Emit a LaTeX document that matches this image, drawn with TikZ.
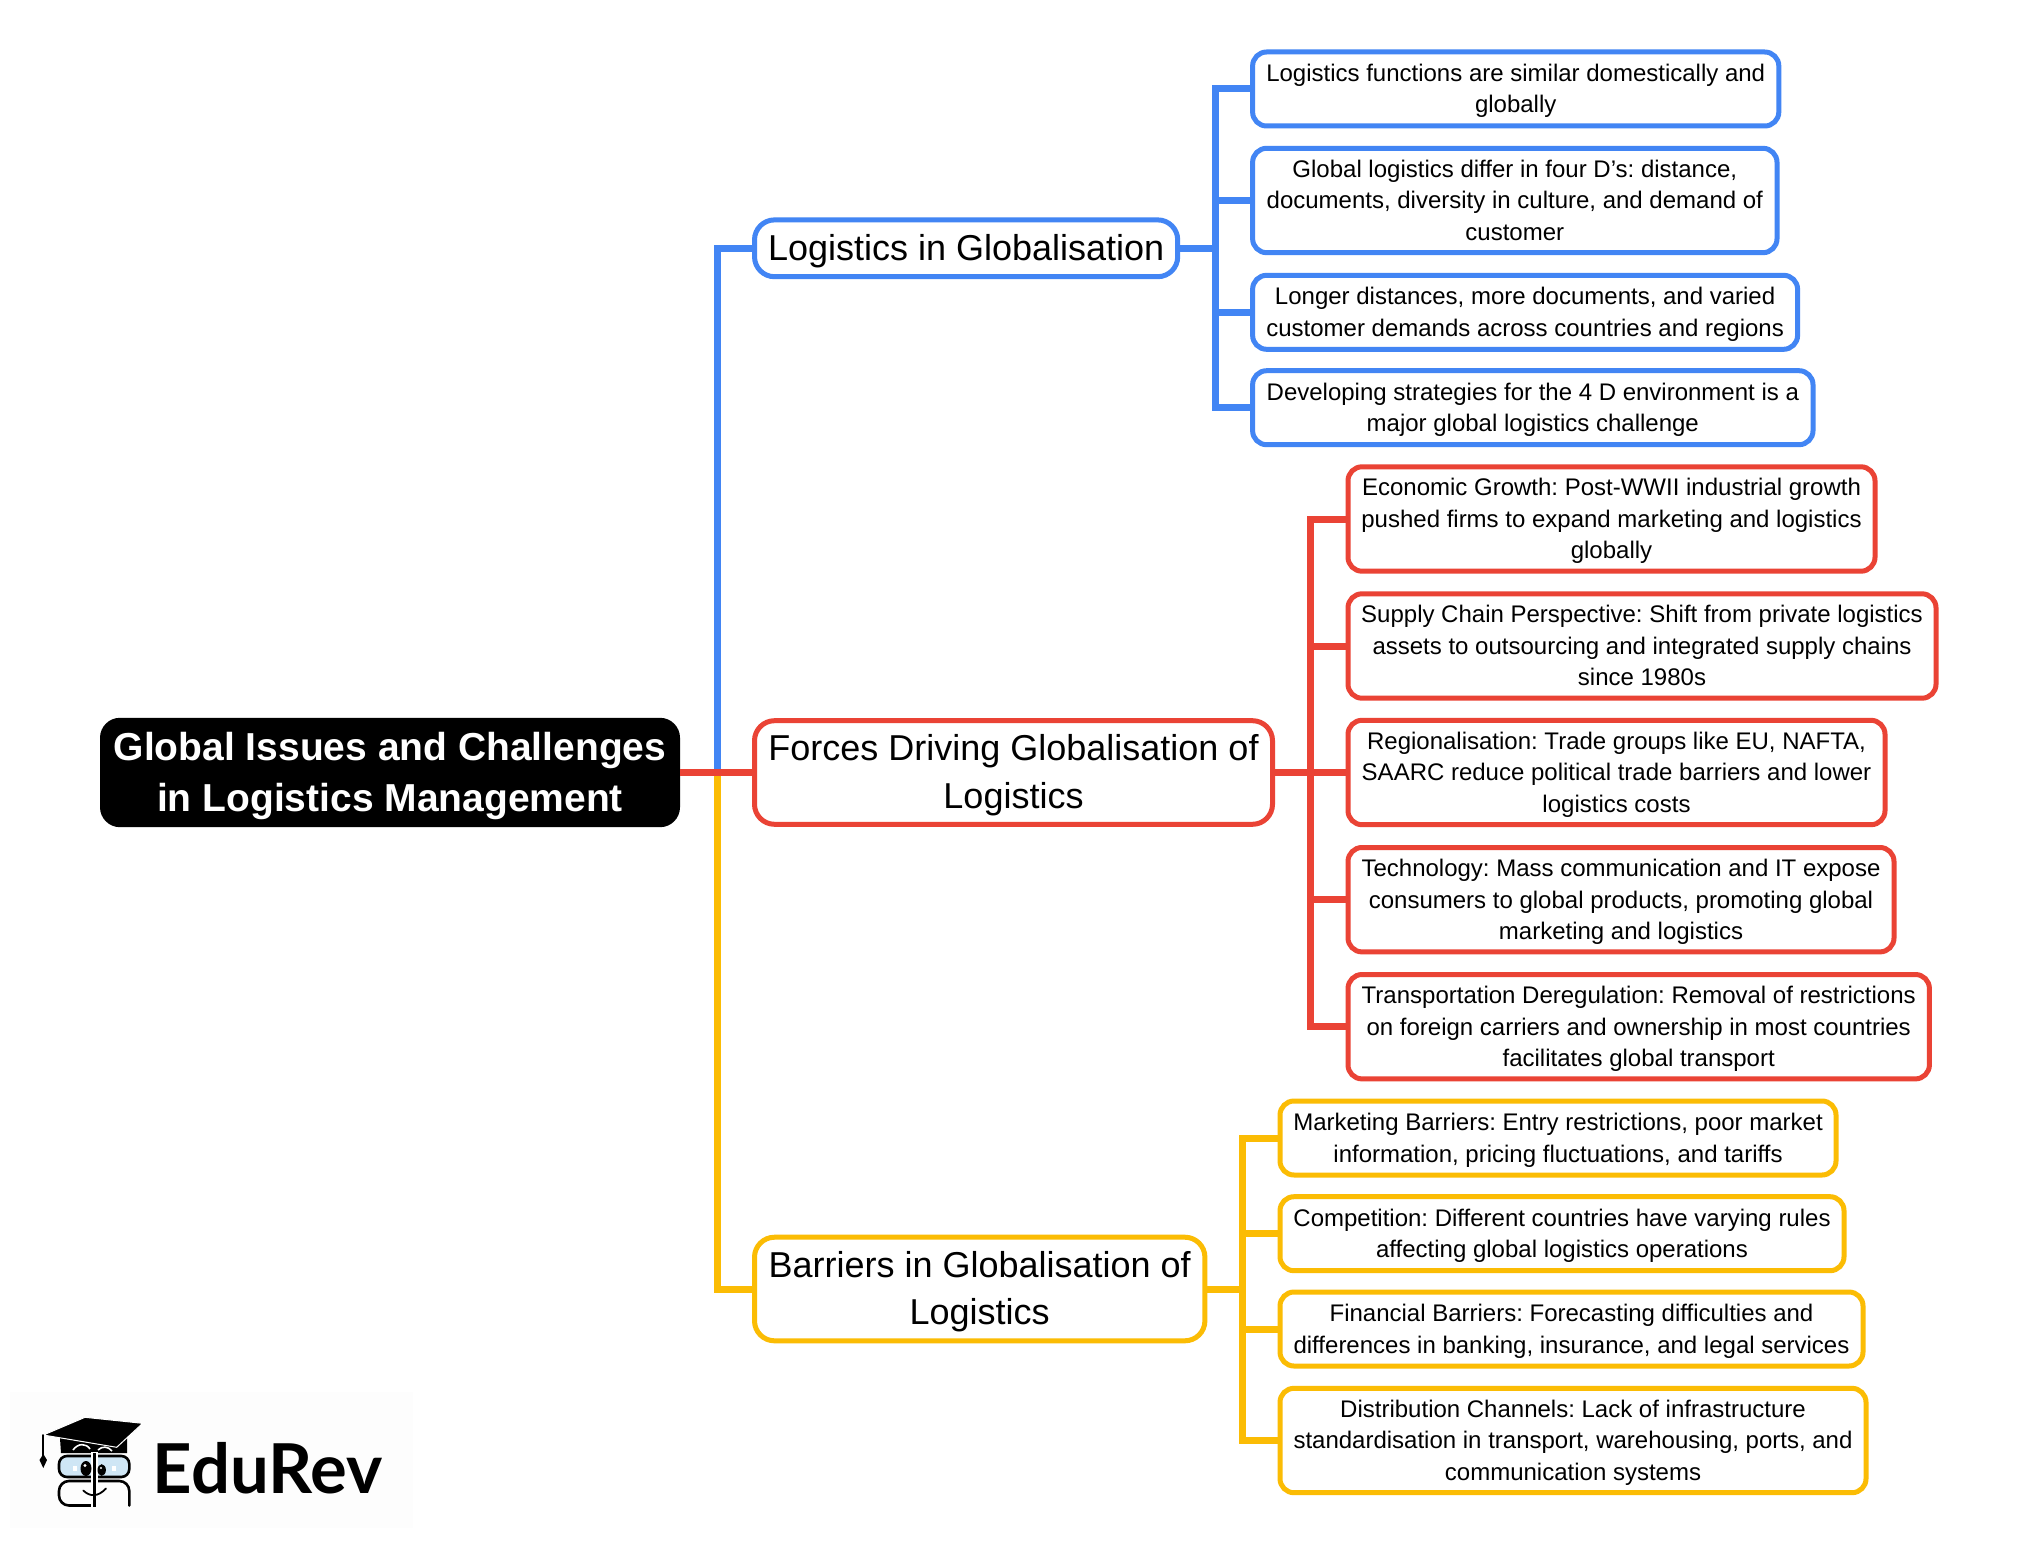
\documentclass[tikz,border=0pt]{standalone}
\usepackage{fontspec}
\setmainfont{Liberation Sans}
\newfontfamily\logofont{Lato}
\definecolor{mapBlue}{HTML}{4285F4}
\definecolor{mapRed}{HTML}{EA4335}
\definecolor{mapYellow}{HTML}{FBBC04}
\definecolor{lensBlue}{HTML}{CFE6F5}
\frenchspacing

\begin{document}
\begin{tikzpicture}%
        [x=0.5pt,
        y=-0.5pt,
        box/.style={draw,fill=white,align=center,text=black,rounded corners=7pt,line width=2.5pt,inner sep=0pt,outer sep=0pt},
        leaf/.style={box,anchor=west,minimum height=37pt,text depth=0.4pt,font=\fontsize{12}{15.7}\selectfont\frenchspacing},
        tall/.style={minimum height=52.2pt},
        topic/.style={box,anchor=west,rounded corners=10pt,text depth=1pt,font=\fontsize{18}{23.6}\selectfont},
        root/.style={align=center,text=white,fill=black,rounded corners=10pt,inner sep=0pt,outer sep=0pt,text depth=1pt,font=\bfseries\fontsize{19.5}{25.4}\selectfont},
        link/.style={line width=3.5pt},
        logoLine/.style={line width=1.3pt,line cap=round,black}]
%
%% Page size
%%
\useasboundingbox (0,0) rectangle (2039,1546);
\fill[white] (0,0) rectangle (2039,1546);
%%
%% Coordinates of the trunks
%%
\coordinate (mainTrunk) at (717,772.5);
\coordinate (logiTrunk) at (1215.6,248.3);
\coordinate (forceTrunk) at (1310.3,772.5);
\coordinate (barTrunk) at (1242.4,1289);
%%
%% Central node
%%
\node[root,minimum width=290pt,minimum height=54.7pt] (main) at (390,772.5) {Global Issues and Challenges\\in Logistics Management};
%%
%% Topics
%%
\node[topic,draw=mapBlue,minimum width=211.6pt,minimum height=28.4pt] (logi) at (754.5,248.3) {Logistics in Globalisation};
\node[topic,draw=mapRed,minimum width=259pt,minimum height=51.8pt] (force) at (754.5,772.5) {Forces Driving Globalisation of\\Logistics};
\node[topic,draw=mapYellow,minimum width=225.2pt,minimum height=51.8pt] (bar) at (754.5,1289) {Barriers in Globalisation of\\Logistics};
%%
%% Leaves of the first topic
%%
\node[leaf,draw=mapBlue,minimum width=263.1pt] (logiA) at (1252.6,89) {Logistics functions are similar domestically and\\globally};
\node[leaf,draw=mapBlue,tall,minimum width=262.2pt] (logiB) at (1252.6,200.5) {Global logistics differ in four D’s: distance,\\documents, diversity in culture, and demand of\\customer};
\node[leaf,draw=mapBlue,minimum width=272.5pt] (logiC) at (1252.6,312.3) {Longer distances, more documents, and varied\\customer demands across countries and regions};
\node[leaf,draw=mapBlue,minimum width=280.2pt] (logiD) at (1252.6,407.7) {Developing strategies for the 4 D environment is a\\major global logistics challenge};
%%
%% Leaves of the second topic
%%
\node[leaf,draw=mapRed,tall,minimum width=263.5pt] (forceA) at (1348,519) {Economic Growth: Post-WWII industrial growth\\pushed firms to expand marketing and logistics\\globally};
\node[leaf,draw=mapRed,tall,minimum width=294pt] (forceB) at (1348,646) {Supply Chain Perspective: Shift from private logistics\\assets to outsourcing and integrated supply chains\\since 1980s};
\node[leaf,draw=mapRed,tall,minimum width=268.5pt] (forceC) at (1348,772.5) {Regionalisation: Trade groups like EU, NAFTA,\\SAARC reduce political trade barriers and lower\\logistics costs};
\node[leaf,draw=mapRed,tall,minimum width=273pt] (forceD) at (1348,899.7) {Technology: Mass communication and IT expose\\consumers to global products, promoting global\\marketing and logistics};
\node[leaf,draw=mapRed,tall,minimum width=290.7pt] (forceE) at (1348,1026.7) {Transportation Deregulation: Removal of restrictions\\on foreign carriers and ownership in most countries\\facilitates global transport};
%%
%% Leaves of the third topic
%%
\node[leaf,draw=mapYellow,minimum width=278pt] (barA) at (1280,1138) {Marketing Barriers: Entry restrictions, poor market\\information, pricing fluctuations, and tariffs};
\node[leaf,draw=mapYellow,minimum width=282pt] (barB) at (1280,1233.7) {Competition: Different countries have varying rules\\affecting global logistics operations};
\node[leaf,draw=mapYellow,minimum width=291.5pt] (barC) at (1280,1329) {Financial Barriers: Forecasting difficulties and\\differences in banking, insurance, and legal services};
\node[leaf,draw=mapYellow,tall,minimum width=293pt] (barD) at (1280,1440.5) {Distribution Channels: Lack of infrastructure\\standardisation in transport, warehousing, ports, and\\communication systems};
%%
%% Drawing the links
%%
\draw[link,mapBlue] (mainTrunk) |- (logi.west);
\draw[link,mapYellow] (mainTrunk) |- (bar.west);
\draw[link,mapRed] (main.east) -- (force.west);
\draw[link,mapBlue] (logi.east) -- (logiTrunk);
\foreach \leafName in {logiA,logiB,logiC,logiD}
  \draw[link,mapBlue] (logiTrunk) |- (\leafName.west);
\draw[link,mapRed] (force.east) -- (forceC.west);
\foreach \leafName in {forceA,forceB,forceD,forceE}
  \draw[link,mapRed] (forceTrunk) |- (\leafName.west);
\draw[link,mapYellow] (bar.east) -- (barTrunk);
\foreach \leafName in {barA,barB,barC,barD}
  \draw[link,mapYellow] (barTrunk) |- (\leafName.west);
%%
%% Logo
%%
\fill[black!0.6] (10,1392) rectangle (413,1528);
\fill[black] (60,1438) -- (61,1453) -- (127,1453) -- (127,1435) -- cycle;
\draw[white,line width=0.8pt] (73,1450) .. controls (78,1443) and (86,1443) .. (90,1449);
\draw[white,line width=0.8pt] (98,1450) .. controls (102,1446) and (108,1446) .. (112,1451);
\draw[fill=black,draw=white,line width=0.5pt,line join=round] (43.3,1435) -- (85,1417.3) -- (142.7,1423.3) -- (116.7,1447.3) -- cycle;
\draw[logoLine,line width=0.9pt] (43.3,1435) -- (43.3,1456);
\fill[black] (43.3,1454) -- (39.5,1460) -- (43.3,1468) -- (47,1460) -- cycle;
\draw[logoLine,fill=lensBlue,rounded corners=4pt] (59,1456) rectangle (129.3,1477);
\draw[logoLine,rounded corners=5pt] (94.3,1505.5) -- (59,1505.5) -- (59,1481) -- (129.3,1481) -- (129.3,1505.5);
\fill[white] (91,1452) rectangle (97.5,1507);
\draw[black,line width=1.5pt] (94.3,1453) -- (94.3,1507);
\fill[black] (86,1468.5) ellipse [x radius=5.5,y radius=7.5];
\fill[white] (85,1465.5) circle [radius=1.7];
\fill[black] (101.7,1470) ellipse [x radius=4.2,y radius=5.8];
\fill[white] (101,1468) circle [radius=1.2];
\fill[white] (72.5,1466) rectangle (77,1471);
\fill[white] (111.5,1466) rectangle (116,1471);
\draw[logoLine,line width=0.9pt] (83.3,1490.5) .. controls (90,1497) and (98,1497) .. (106,1488.5);
\node[anchor=base west,inner sep=0pt,text=black,font=\logofont\bfseries\fontsize{34.4}{40}\selectfont] (logoText) at (152.5,1493) {EduRev};

\end{tikzpicture}
\end{document}
